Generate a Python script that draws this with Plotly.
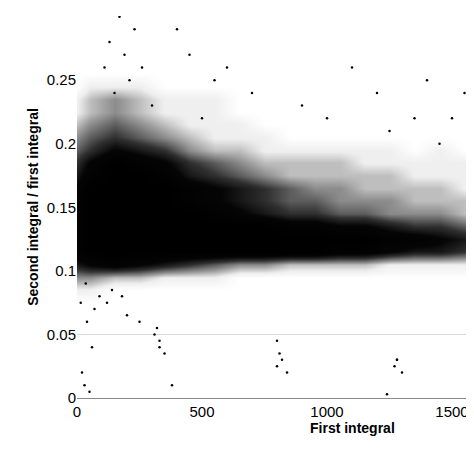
import plotly.graph_objects as go

x_centers = [0,50,150,250,350,450,550,650,750,850,950,1050,1150,1250,1350,1450,1550,1650]
y_centers = [0.075,0.085,0.095,0.105,0.115,0.125,0.135,0.145,0.155,0.165,0.175,0.185,0.195,0.205,0.215,0.225,0.235,0.245,0.255]
density = [
 [0,0,0,0,0,0,0,0,0,0,0,0,0,0,0,0,0,0],
 [1,1,0,0,0,0,0,0,0,0,0,0,0,0,0,0,0,0],
 [3,3,2,2,1,1,1,0,0,0,0,0,0,0,0,0,0,0],
 [6,7,8,7,6,5,4,3,3,2,2,2,2,1,1,1,1,1],
 [8,9,9,9,9,9,9,9,9,9,9,8,8,7,6,6,5,4],
 [8,9,9,9,9,9,9,9,9,9,9,9,9,8,8,7,6,5],
 [8,9,9,9,9,9,9,9,9,8,8,7,7,6,5,5,4,4],
 [8,9,9,9,9,9,8,7,6,5,5,4,4,3,3,3,2,2],
 [8,9,9,9,9,8,7,6,5,4,4,3,3,3,2,2,2,2],
 [7,9,9,9,9,8,7,6,5,4,3,3,2,2,2,2,1,1],
 [6,8,9,9,8,6,5,4,3,2,2,2,2,2,1,1,1,1],
 [5,7,9,8,7,5,4,3,2,2,2,2,1,1,1,1,1,1],
 [4,5,7,6,5,3,2,2,1,1,1,1,1,1,0,1,0,0],
 [3,4,5,4,3,2,1,1,1,0,0,0,0,0,0,0,0,0],
 [2,3,4,3,2,1,1,1,0,0,0,0,0,0,0,0,0,0],
 [1,2,3,2,1,1,1,0,0,0,0,0,0,0,0,0,0,0],
 [1,2,3,2,1,1,1,0,0,0,0,0,0,0,0,0,0,0],
 [0,1,1,1,0,0,0,0,0,0,0,0,0,0,0,0,0,0],
 [0,0,0,0,0,0,0,0,0,0,0,0,0,0,0,0,0,0],
]
out_x = [20,40,60,90,110,130,150,170,190,210,230,260,300,310,330,350,400,450,500,550,600,700,800,820,840,900,1000,1100,1200,1250,1280,1300,1350,1400,1450,1500,1550,30,50,70,120,180,250,320,330,800,810,1270,1280,1240,35,15,140,200,380]
out_y = [0.02,0.06,0.04,0.08,0.26,0.28,0.24,0.3,0.27,0.25,0.29,0.26,0.23,0.05,0.04,0.035,0.29,0.27,0.22,0.25,0.26,0.24,0.045,0.03,0.02,0.23,0.22,0.26,0.24,0.21,0.03,0.02,0.22,0.25,0.2,0.22,0.24,0.01,0.005,0.07,0.075,0.08,0.06,0.055,0.045,0.025,0.035,0.025,0.03,0.003,0.09,0.075,0.085,0.065,0.01]

fig = go.Figure()
fig.add_trace(go.Heatmap(x=x_centers, y=y_centers, z=density, zmin=0, zmax=9, zsmooth='best',
    colorscale=[[0,'#ffffff'],[0.12,'#eeeeee'],[0.3,'#9a9a9a'],[0.55,'#303030'],[0.75,'#050505'],[1,'#000']],
    showscale=False, hoverinfo='skip'))
fig.add_trace(go.Scatter(x=out_x, y=out_y, mode='markers', marker=dict(color='black', size=2.5), showlegend=False))
fig.update_layout(width=474, height=449, margin=dict(l=69, r=0, t=8, b=59, autoexpand=False),
    plot_bgcolor='white', paper_bgcolor='white', font=dict(family='Liberation Sans', size=15, color='black'),
    annotations=[dict(text='<b>First integral</b>', x=1100, y=-0.105, xref='x', yref='paper', showarrow=False, font=dict(size=14))])
fig.update_xaxes(range=[0,1620], tickvals=[0,500,1000,1500], showgrid=False, showline=True, linecolor='#888', zeroline=False, ticks='', automargin=False)
fig.update_yaxes(range=[0,0.3005], tickvals=[0,0.05,0.1,0.15,0.2,0.25,0.3], ticktext=['0','0.05','0.1','0.15','0.2','0.25','0.3'],
    showgrid=True, gridcolor='#d9d9d9', zeroline=False, showline=False, ticks='', automargin=False,
    title=dict(text='<b>Second integral / first integral</b>', font=dict(size=14), standoff=4))
fig.write_html('out.html')
